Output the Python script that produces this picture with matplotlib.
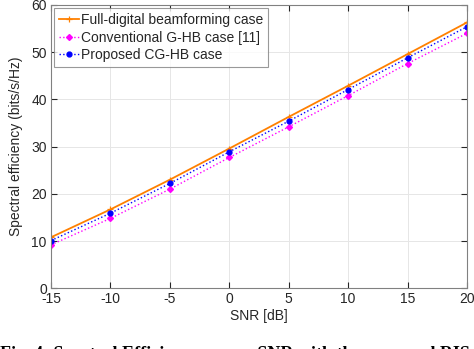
import numpy as np
import matplotlib.pyplot as plt

# SNR points and spectral efficiency
snr = [-15, -10, -5, 0, 5, 10, 15, 20]
full_digital = [10.8, 16.7, 23.0, 29.6, 36.3, 42.9, 49.6, 56.3]
conventional = [9.2, 14.8, 21.0, 27.7, 34.2, 40.8, 47.6, 54.0]
proposed = [10.1, 15.9, 22.2, 28.9, 35.4, 42.1, 48.8, 55.4]

labels = ["Full-digital beamforming case",
          "Conventional G-HB case [11]",
          "Proposed CG-HB case"]
xticks = [-15, -10, -5, 0, 5, 10, 15, 20]
yticks = [0, 10, 20, 30, 40, 50, 60]

TEXT = "#262626"

plt.rcParams["font.family"] = ["Liberation Sans", "DejaVu Sans"]
plt.rcParams["axes.unicode_minus"] = False

fig = plt.figure(figsize=(4.74, 3.49), dpi=100)
ax = fig.add_axes([0.1076, 0.174, 0.8776, 0.8117])

ax.plot(snr, full_digital, color="#ff8000", lw=1.3, marker="+", ms=4,
        mew=0.9, label=labels[0])
ax.plot(snr, conventional, color="#ff00ff", lw=1.0, ls=":", marker="D",
        ms=3, label=labels[1])
ax.plot(snr, proposed, color="#0000ff", lw=1.0, ls=":", marker="o",
        ms=3.5, label=labels[2])

ax.set_xlim(-15, 20)
ax.set_ylim(0, 60)
ax.set_xticks(xticks)
ax.set_yticks(yticks)
ax.grid(True, color="#e6e6e6", lw=0.7)
ax.tick_params(direction="in", length=4, labelsize=10, colors=TEXT,
               top=True, right=True, pad=3)
for side in ax.spines.values():
    side.set_color("#808080")
    side.set_linewidth(0.8)

ax.set_xlabel("SNR [dB]", fontsize=10, color=TEXT, labelpad=2)
ax.set_ylabel("Spectral efficiency (bits/s/Hz)", fontsize=10, color=TEXT,
              labelpad=6)

leg = ax.legend(loc="upper left", fontsize=10, frameon=True, fancybox=False,
                handlelength=1.4, handletextpad=0.15, borderpad=0.35,
                labelspacing=0.25, borderaxespad=0.25)
leg.get_frame().set_edgecolor("#808080")
leg.get_frame().set_linewidth(0.8)
for t in leg.get_texts():
    t.set_color(TEXT)

# caption of the paper, cut off at the bottom edge
fig.text(0.0, 0.008, "Fig. 4: Spectral Efficiency versus SNR with the proposed RIS",
         fontsize=13, family="Liberation Serif", weight="bold", ha="left",
         va="top")

fig.savefig("out.png", dpi=100)
